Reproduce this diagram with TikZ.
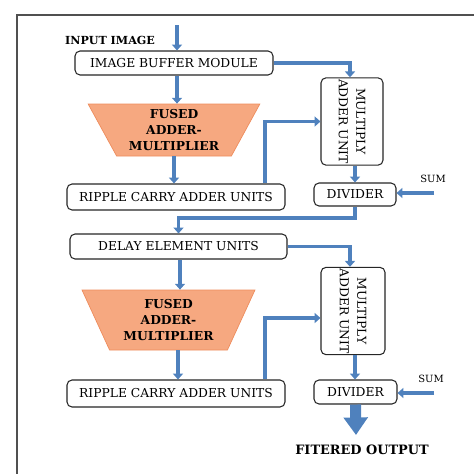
\documentclass[tikz,border=0pt]{standalone}
\usepackage{fontspec}
\setmainfont{DejaVu Serif}
\usepackage{xcolor}
\usetikzlibrary{shapes.geometric, arrows.meta, positioning, calc}
\definecolor{flowblue}{RGB}{79,129,189}
\definecolor{famfill}{RGB}{246,168,128}
\definecolor{famline}{RGB}{238,140,92}
\definecolor{framegray}{RGB}{80,80,80}

\begin{document}
\begin{tikzpicture}[x=0.03cm, y=-0.03cm,
  unit/.style={draw=black!85, line width=0.9pt, rounded corners=0.15cm, fill=white, inner sep=1pt, font=\fontsize{10.5}{12}\selectfont},
  fam/.style={trapezium, shape border rotate=180, trapezium stretches=true, draw=famline, fill=famfill, line width=0.6pt, inner sep=0pt, align=center, font=\fontsize{10.5}{14}\selectfont\bfseries},
  flow/.style={draw=flowblue, line width=3.2pt, -{Triangle[length=5pt, width=8.5pt]}}]
\useasboundingbox (0,0) rectangle (474,474);
% page frame
\draw[framegray, line width=1pt] (17,474) -- (17,15) -- (474,15);

% first stage
\node[font=\fontsize{9.5}{11}\selectfont\bfseries] (input) at (110,40) {INPUT IMAGE};
\coordinate (in) at (177,25);
\node[unit, minimum width=5.94cm, minimum height=0.72cm] (buffer) at (174,63) {IMAGE BUFFER MODULE};
\node[fam, minimum width=5.16cm, minimum height=1.56cm, trapezium angle=62] (fam1) at (174,130) {FUSED\\ADDER-\\MULTIPLIER};
\node[unit, minimum width=6.54cm, minimum height=0.78cm] (ripple1) at (176,197) {RIPPLE CARRY ADDER UNITS};
% rotated: west = top, east = bottom, south = left
\node[unit, rotate=-90, align=center, minimum width=2.31cm, minimum height=1.86cm, font=\fontsize{10.5}{15}\selectfont] (mult1) at (352,121.5) {MULTIPLY\\ADDER UNIT};
\node[unit, minimum width=2.46cm, minimum height=0.69cm] (div1) at (355,194.5) {DIVIDER};
\node[font=\fontsize{8.5}{10}\selectfont] (sum1) at (433,179) {SUM};
\coordinate (s1) at (434,193);

% second stage
\node[unit, minimum width=6.51cm, minimum height=0.75cm] (delay) at (178.5,246.5) {DELAY ELEMENT UNITS};
\node[fam, minimum width=5.19cm, minimum height=1.8cm, trapezium angle=63.4] (fam2) at (168.5,320) {FUSED\\ADDER-\\MULTIPLIER};
\node[unit, minimum width=6.54cm, minimum height=0.81cm] (ripple2) at (176,393.5) {RIPPLE CARRY ADDER UNITS};
\node[unit, rotate=-90, align=center, minimum width=2.46cm, minimum height=1.92cm, font=\fontsize{10.5}{15}\selectfont] (mult2) at (353,311) {MULTIPLY\\ADDER UNIT};
\node[unit, minimum width=2.49cm, minimum height=0.72cm] (div2) at (355.5,392) {DIVIDER};
\node[font=\fontsize{8.5}{10}\selectfont] (sum2) at (431,379) {SUM};
\coordinate (s2) at (434,393);
\coordinate (out) at (356,435);
\node[font=\fontsize{11}{13}\selectfont\bfseries] (output) at (362,450) {FITERED OUTPUT};

% guide lines for the connectors
\coordinate (gm) at (350,0);
\coordinate (gd) at (355,0);
\coordinate (gr) at (265,0);
\coordinate (gd2) at (180,0);
\coordinate (gf2) at (178,0);

% connectors
\draw[flow] (in) -- (in |- buffer.north);
\draw[flow] (buffer.south -| in) -- (fam1.north -| in);
\draw[flow] (fam1.south) -- (fam1.south |- ripple1.north);
\draw[flow] (buffer.east) -| (mult1.west -| gm);
\draw[flow] (ripple1.north -| gr) |- (mult1.south);
\draw[flow] (mult1.east -| gd) -- (div1.north);
\draw[flow] (s1) -- (s1 -| div1.east);
\coordinate (fb) at (355,218);
\draw[flow] (div1.south) -- (fb) -| (delay.north);

\draw[flow] (delay.east) -| (mult2.west -| gm);
\draw[flow] (delay.south -| gd2) -- (fam2.north -| gd2);
\draw[flow] (fam2.south -| gf2) -- (ripple2.north -| gf2);
\draw[flow] (ripple2.north -| gr) |- ([yshift=-0.21cm]mult2.south);
\draw[flow] (mult2.east -| gd) -- (div2.north -| gd);
\draw[flow] (s2) -- (s2 -| div2.east);
\draw[draw=flowblue, line width=9.4pt, -{Triangle[length=15pt, width=20pt]}] (div2.south) -- (out);
\end{tikzpicture}
\end{document}
